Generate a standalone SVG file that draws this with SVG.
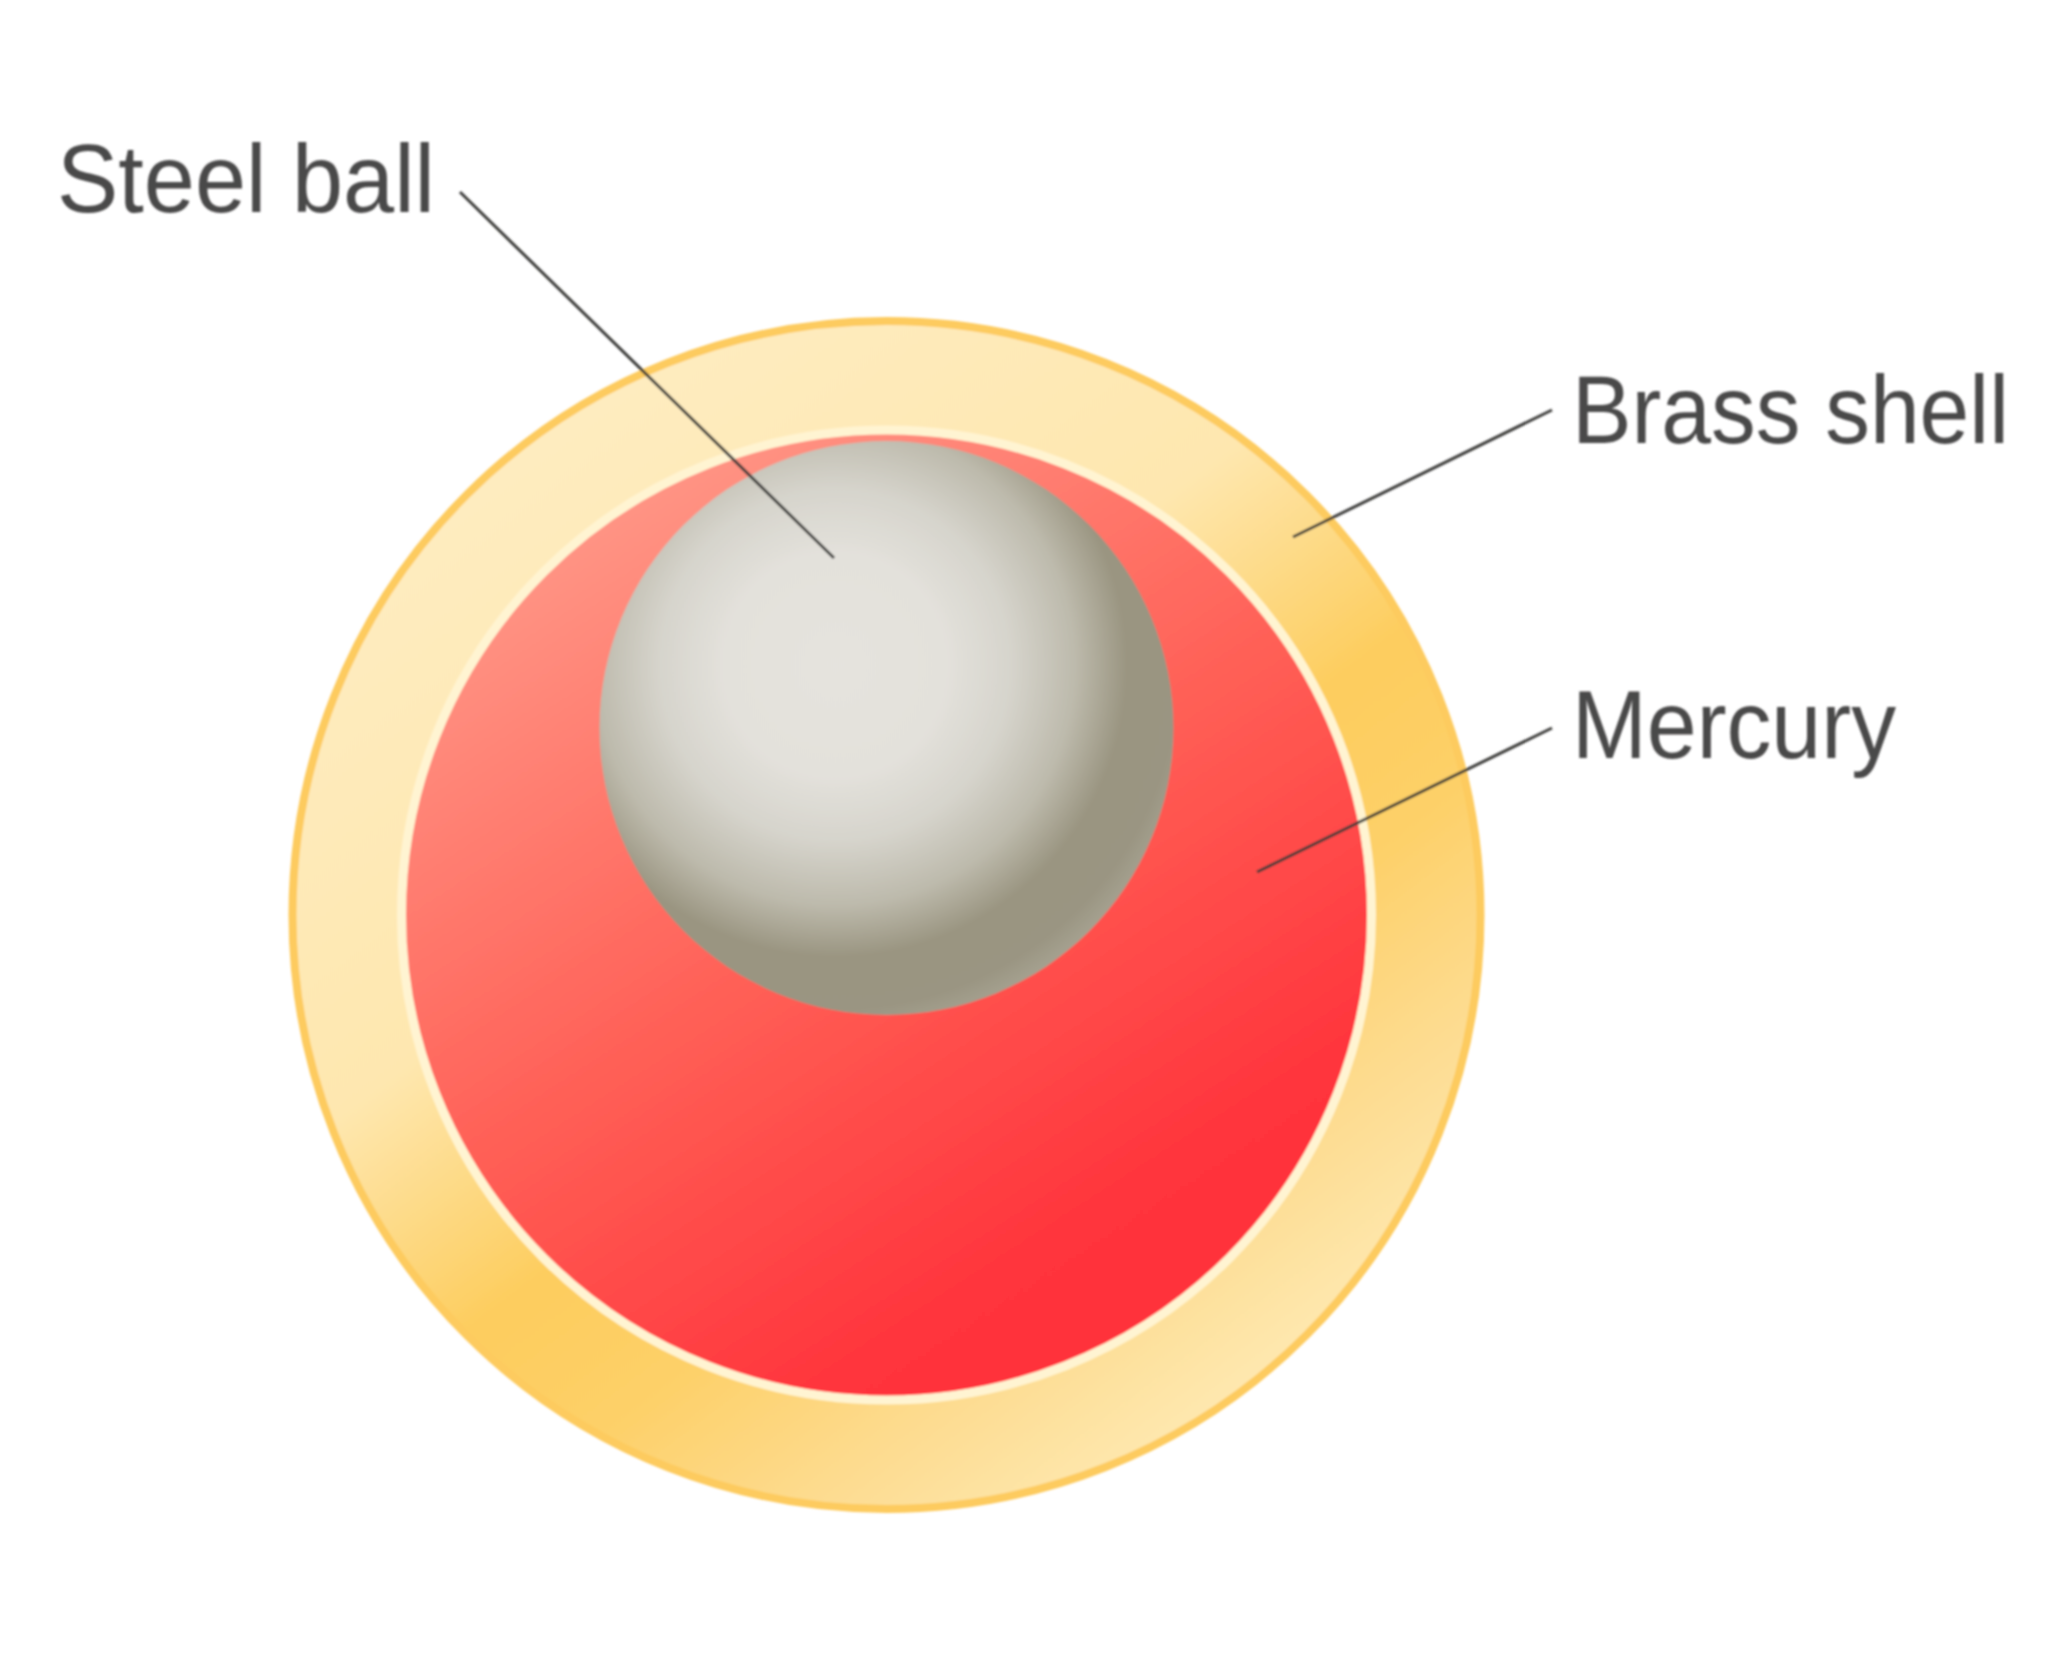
<svg xmlns="http://www.w3.org/2000/svg" width="2046" height="1676" viewBox="0 0 2046 1676">
<style>
.lbl{font-family:"Liberation Sans",Arial,sans-serif;font-size:96px;fill:#4a4849}
.lead{stroke:#3c3c3a;stroke-width:3;fill:none}
</style>
<defs>
<linearGradient id="brass" gradientUnits="userSpaceOnUse" x1="528" y1="437" x2="1245" y2="1393">
<stop offset="0" stop-color="#FEECC0"/><stop offset="0.36" stop-color="#FEE7AF"/><stop offset="0.57" stop-color="#FDCD5E"/><stop offset="0.7" stop-color="#FDD068"/><stop offset="0.85" stop-color="#FDDB8E"/><stop offset="1" stop-color="#FEE8B0"/>
</linearGradient>
<linearGradient id="merc" gradientUnits="userSpaceOnUse" x1="620" y1="500" x2="1130" y2="1290">
<stop offset="0" stop-color="#FF9585"/><stop offset="0.52" stop-color="#FF5E55"/><stop offset="0.92" stop-color="#FF343C"/><stop offset="1" stop-color="#FF333B"/>
</linearGradient>
<radialGradient id="ball" gradientUnits="userSpaceOnUse" cx="835" cy="665" r="400">
<stop offset="0" stop-color="#E5E3DE"/><stop offset="0.28" stop-color="#E3E1DB"/><stop offset="0.44" stop-color="#D6D4CC"/><stop offset="0.6" stop-color="#BDBAAC"/><stop offset="0.73" stop-color="#9A9581"/><stop offset="0.86" stop-color="#9A9582"/><stop offset="1" stop-color="#B4B1A2"/>
</radialGradient>
<filter id="soft" x="-5%" y="-5%" width="110%" height="110%"><feGaussianBlur stdDeviation="1.2"/></filter>
</defs>
<rect width="2046" height="1676" fill="#fff"/>
<g filter="url(#soft)">
<g id="brass-shell"><circle cx="886.5" cy="915" r="594" fill="url(#brass)" stroke="#FDCB5E" stroke-width="8"/></g>
<g id="mercury"><circle cx="886.5" cy="915" r="485" fill="url(#merc)" stroke="#FFF4D2" stroke-width="9"/></g>
<g id="steel-ball"><circle cx="886.5" cy="728" r="287" fill="url(#ball)"/></g>
<g id="connectors">
<line class="lead" x1="460" y1="192" x2="834" y2="558"/>
<line class="lead" x1="1552" y1="410" x2="1293" y2="537"/>
<line class="lead" x1="1552" y1="728" x2="1257" y2="872"/>
</g>
<g id="labels">
<text class="lbl" x="57" y="212" textLength="378" lengthAdjust="spacingAndGlyphs">Steel ball</text>
<text class="lbl" x="1572" y="443" textLength="437" lengthAdjust="spacingAndGlyphs">Brass shell</text>
<text class="lbl" x="1572" y="758" textLength="324" lengthAdjust="spacingAndGlyphs">Mercury</text>
</g>
</g>
</svg>
